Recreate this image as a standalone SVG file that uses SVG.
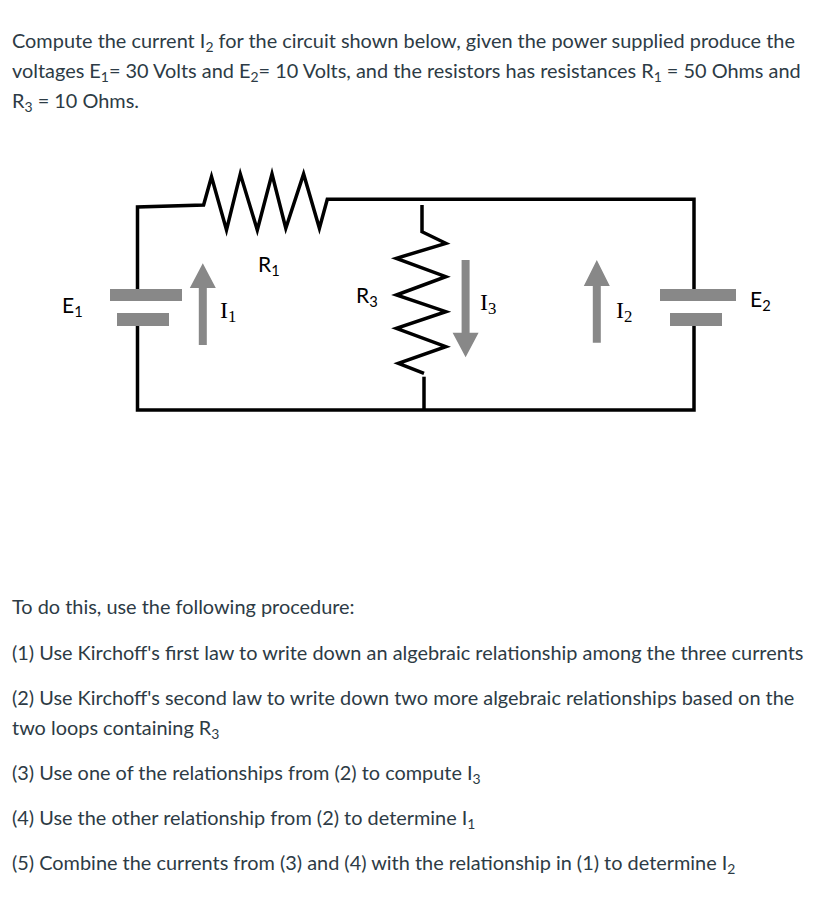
<svg xmlns="http://www.w3.org/2000/svg" width="822" height="897" viewBox="0 0 822 897">
<style>
.t{font-family:Lato,"Open Sans",sans-serif;font-size:19.9px;fill:#2d3b45}
.w{fill:none;stroke:#000;stroke-width:3.5;stroke-linejoin:miter}
.p{fill:#888}
.lb{font-family:Lato,sans-serif;font-size:21px;fill:#000}
.li{font-family:"Liberation Serif",serif;font-size:24px;fill:#000}
.s{font-size:70%}
</style>
<rect width="822" height="897" fill="#fff"/>
<g id="question">
<text class="t" x="12" y="48">Compute the current I<tspan class="s" dy="4">2</tspan><tspan dy="-4"> for the circuit shown below, given the power supplied produce the</tspan></text>
<text class="t" x="12" y="78">voltages E<tspan class="s" dy="4">1</tspan><tspan dy="-4">= 30 Volts and E</tspan><tspan class="s" dy="4">2</tspan><tspan dy="-4">= 10 Volts, and the resistors has resistances R</tspan><tspan class="s" dy="4">1</tspan><tspan dy="-4"> = 50 Ohms and</tspan></text>
<text class="t" x="12" y="108">R<tspan class="s" dy="4">3</tspan><tspan dy="-4"> = 10 Ohms.</tspan></text>
</g>
<g id="connectors">
<polyline class="w" points="137.5,289 137.5,207 203.6,205 211.5,176.7 226.5,230 240.3,174 257.3,230 272,174 285.8,228.3 303.6,174 319.4,228.3 327.3,199.3 694,199.3 694,289"/>
<polyline class="w" points="137.5,326 137.5,410 694,410 694,326"/>
<polyline class="w" points="422,205 422,231.7 445.8,243.3 396.4,258.3 445.8,276.7 396.4,295 445.8,311.7 396.4,328.3 445.8,346.7 398.4,363.3 424,373.3"/>
<polyline class="w" points="424,376.7 424,410"/>
</g>
<g id="E1">
<rect class="p" x="110" y="289" width="72" height="12"/>
<rect class="p" x="117" y="313" width="52" height="13"/>
<text class="lb" x="62" y="313">E<tspan class="s" dy="4">1</tspan></text>
</g>
<g id="E2">
<rect class="p" x="660" y="289" width="76" height="12"/>
<rect class="p" x="670" y="313" width="52" height="13"/>
<text class="lb" x="750" y="307">E<tspan class="s" dy="4">2</tspan></text>
</g>
<g id="R1"><text class="lb" x="258" y="272">R<tspan class="s" dy="4">1</tspan></text></g>
<g id="R3"><text class="lb" x="356" y="303">R<tspan class="s" dy="4">3</tspan></text></g>
<g id="I1">
<polygon class="p" points="202.8,263.3 215.8,288 206.8,288 206.8,345 198.8,345 198.8,288 189.8,288"/>
<text class="li" x="220" y="318">I<tspan class="s" dy="4">1</tspan></text>
</g>
<g id="I3">
<polygon class="p" points="465.6,357.3 478.6,332.7 469.6,332.7 469.6,260 461.6,260 461.6,332.7 452.6,332.7"/>
<text class="li" x="480" y="310">I<tspan class="s" dy="4">3</tspan></text>
</g>
<g id="I2">
<polygon class="p" points="596.8,260 609.8,286 600.8,286 600.8,342.7 592.8,342.7 592.8,286 583.8,286"/>
<text class="li" x="616" y="318">I<tspan class="s" dy="4">2</tspan></text>
</g>
<g id="procedure">
<text class="t" x="12" y="614">To do this, use the following procedure:</text>
<text class="t" x="12" y="660">(1) Use Kirchoff's first law to write down an algebraic relationship among the three currents</text>
<text class="t" x="12" y="705">(2) Use Kirchoff's second law to write down two more algebraic relationships based on the</text>
<text class="t" x="12" y="735">two loops containing R<tspan class="s" dy="4">3</tspan></text>
<text class="t" x="12" y="780">(3) Use one of the relationships from (2) to compute I<tspan class="s" dy="4">3</tspan></text>
<text class="t" x="12" y="825">(4) Use the other relationship from (2) to determine I<tspan class="s" dy="4">1</tspan></text>
<text class="t" x="12" y="870">(5) Combine the currents from (3) and (4) with the relationship in (1) to determine I<tspan class="s" dy="4">2</tspan></text>
</g>
</svg>
